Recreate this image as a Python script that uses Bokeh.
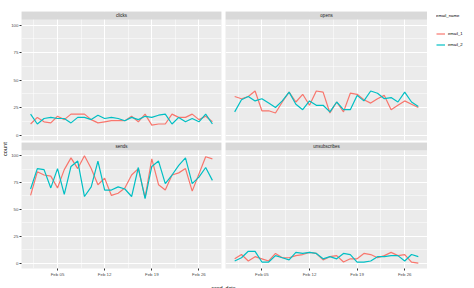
import pandas as pd
from math import pi
from bokeh.plotting import figure
from bokeh.layouts import row, column
from bokeh.models import (Range1d, FixedTicker, BoxAnnotation, Label, Legend,
                          LegendItem)
from bokeh.embed import file_html
from bokeh.resources import INLINE

# ---------------- data ----------------
send_dates = pd.date_range("2017-02-01", "2017-02-28", freq="D")
email_names = ["email_1", "email_2"]
facet_names = ["clicks", "opens", "sends", "unsubscribes"]

clicks_email_1 = [10, 16, 12, 11, 17, 14, 19, 19, 19, 14, 11, 12, 13, 13, 13, 17, 12, 19, 9, 10, 10, 19, 16, 16, 19, 14, 17, 12]
clicks_email_2 = [19, 10, 15, 16, 15, 15, 11, 16, 16, 14, 18, 15, 16, 15, 13, 16, 14, 17, 16, 18, 19, 10, 16, 12, 15, 12, 19, 10]
opens_email_1 = [35, 33, 35, 40, 22, 22, 20, 30, 39, 30, 37, 27, 40, 39, 20, 30, 21, 38, 37, 32, 29, 33, 36, 23, 27, 31, 28, 25]
opens_email_2 = [21, 32, 35, 31, 33, 29, 25, 31, 39, 28, 23, 31, 27, 27, 21, 30, 23, 23, 36, 31, 40, 38, 33, 34, 30, 39, 30, 26]
sends_email_1 = [63, 85, 82, 81, 70, 87, 98, 88, 100, 88, 73, 79, 63, 65, 70, 82, 88, 61, 97, 73, 68, 82, 84, 88, 67, 83, 99, 97]
sends_email_2 = [69, 88, 87, 70, 88, 64, 90, 95, 62, 71, 95, 68, 68, 71, 69, 62, 89, 60, 90, 95, 74, 82, 91, 98, 74, 80, 89, 77]
unsubscribes_email_1 = [4, 8, 2, 6, 4, 2, 9, 5, 5, 7, 8, 10, 9, 3, 6, 7, 1, 4, 4, 9, 8, 5, 7, 10, 7, 8, 1, 0]
unsubscribes_email_2 = [2, 5, 11, 11, 1, 1, 7, 5, 3, 10, 9, 10, 9, 4, 6, 4, 9, 8, 1, 1, 2, 6, 6, 7, 7, 2, 8, 6]

x_tick_dates = ["2017-02-05", "2017-02-12", "2017-02-19", "2017-02-26"]
x_tick_labels = ["Feb 05", "Feb 12", "Feb 19", "Feb 26"]
y_ticks = [0, 25, 50, 75, 100]
y_minor_ticks = [12.5, 37.5, 62.5, 87.5]

series = {
    "clicks": [clicks_email_1, clicks_email_2],
    "opens": [opens_email_1, opens_email_2],
    "sends": [sends_email_1, sends_email_2],
    "unsubscribes": [unsubscribes_email_1, unsubscribes_email_2],
}
colors = ["#F8766D", "#00BFC4"]

# ---------------- styling / layout ----------------
FONT = "Liberation Sans"
PANEL_BG = "#EBEBEB"
STRIP_BG = "#D9D9D9"
DAY_MS = 86400000.0


def ms(d):
    return pd.Timestamp(d).value / 1e6


x_ticks_ms = [ms(d) for d in x_tick_dates]
x_minor_ms = [t - 3.5 * DAY_MS for t in x_ticks_ms]
x0, x1 = ms(send_dates[0]), ms(send_dates[-1])
xpad = 0.05 * (x1 - x0)
x_start, x_end = x0 - xpad, x1 + xpad

panel_px = 121
strip_px = 8
y_lo, y_hi = -5, 105
y_top = y_hi + strip_px * (y_hi - y_lo) / panel_px


def make_panel(name, width, height, left, right, top, bottom, show_x, show_y):
    p = figure(width=width, height=height, x_axis_type="datetime",
               x_range=Range1d(x_start, x_end), y_range=Range1d(y_lo, y_top),
               x_axis_location="below" if show_x else None,
               y_axis_location="left" if show_y else None,
               title=None, toolbar_location=None, output_backend="svg",
               min_border=0,
               min_border_left=left, min_border_right=right,
               min_border_top=top, min_border_bottom=bottom)
    p.background_fill_color = PANEL_BG
    p.border_fill_color = "white"
    p.outline_line_color = None

    p.xgrid.ticker = FixedTicker(ticks=x_ticks_ms, minor_ticks=x_minor_ms)
    p.ygrid.ticker = FixedTicker(ticks=y_ticks, minor_ticks=y_minor_ticks)
    for g in (p.xgrid, p.ygrid):
        g.grid_line_color = "white"
        g.grid_line_width = 1
        g.minor_grid_line_color = "white"
        g.minor_grid_line_width = 0.5

    axes = []
    if show_x:
        p.xaxis.ticker = FixedTicker(ticks=x_ticks_ms)
        p.xaxis.major_label_overrides = dict(zip(x_ticks_ms, x_tick_labels))
        axes.append(p.xaxis)
    if show_y:
        p.yaxis.ticker = FixedTicker(ticks=y_ticks)
        axes.append(p.yaxis)
    for ax in axes:
        ax.axis_line_color = None
        ax.major_tick_line_color = "#333333"
        ax.major_tick_out = 2
        ax.major_tick_in = 0
        ax.minor_tick_line_color = None
        ax.major_label_text_font = FONT
        ax.major_label_text_font_size = "4.4px"
        ax.major_label_text_color = "#4D4D4D"
        ax.major_label_standoff = 1

    for vals, c in zip(series[name], colors):
        p.line(send_dates, vals, line_color=c, line_width=1.2)

    p.add_layout(BoxAnnotation(bottom=y_hi, top=y_top, fill_color=STRIP_BG,
                               fill_alpha=1, line_color=None))
    p.add_layout(Label(x=(x_start + x_end) / 2, y=(y_hi + y_top) / 2,
                       text=name, text_align="center", text_baseline="middle",
                       text_font=FONT, text_font_size="4.5px",
                       text_color="#1A1A1A"))
    return p


tl = make_panel("clicks", 215, 141, 11, 2, 11, 1, False, True)
tr = make_panel("opens", 204, 141, 2, 0, 11, 1, False, False)
bl = make_panel("sends", 215, 138, 11, 2, 1, 8, True, True)
br = make_panel("unsubscribes", 204, 138, 2, 0, 1, 8, True, False)


def blank(width, height, xr=(0, 1), yr=(0, 1), **kw):
    f = figure(width=width, height=height, x_range=Range1d(*xr),
               y_range=Range1d(*yr), x_axis_location=None,
               y_axis_location=None, toolbar_location=None,
               output_backend="svg", min_border=0, **kw)
    f.grid.visible = False
    f.outline_line_color = None
    f.background_fill_color = "white"
    f.border_fill_color = "white"
    return f


ylab = blank(8, 279, title=None)
ylab.add_layout(Label(x=0.55, y=0.49, text="count", angle=pi / 2,
                      text_align="center", text_baseline="middle",
                      text_font=FONT, text_font_size="5.6px",
                      text_color="black"))

# x-axis title: drawn as the title of a thin strip figure (its own panel at
# the top of the strip), 446 px wide so that its centre falls between panels
xlab = blank(446, 9, title="send_date", title_location="above")
xlab.title.align = "center"
xlab.title.standoff = 0
xlab.title.offset = 0
xlab.title.text_font = FONT
xlab.title.text_font_size = "5.2px"
xlab.title.text_font_style = "normal"
xlab.title.text_color = "black"

# legend panel: its keys are drawn from the email_1 / email_2 'clicks' lines,
# which fall outside this little figure's own ranges and so are not shown
lg = blank(47, 279, title=None, min_border_left=9, min_border_top=13)
items = []
for nm, vals, c in zip(email_names, series["clicks"], colors):
    r = lg.line(send_dates, vals, line_color=c, line_width=1.2)
    items.append(LegendItem(label=nm, renderers=[r]))
legend = Legend(items=items, location="top_left", title="email_name",
                margin=0, padding=0, spacing=2, glyph_width=9, glyph_height=9,
                label_height=9, label_standoff=3,
                label_text_font=FONT, label_text_font_size="4.2px",
                label_text_color="black",
                title_text_font=FONT, title_text_font_size="4.3px",
                title_text_font_style="normal", title_text_color="black",
                title_standoff=11, inactive_fill_alpha=0,
                background_fill_alpha=0, border_line_alpha=0)
lg.add_layout(legend, "center")

middle = column(row(tl, tr, spacing=0), row(bl, br, spacing=0), spacing=0)
layout = column(row(ylab, middle, lg, spacing=0), xlab, spacing=0)

open("out.html", "w").write(file_html(layout, INLINE))
